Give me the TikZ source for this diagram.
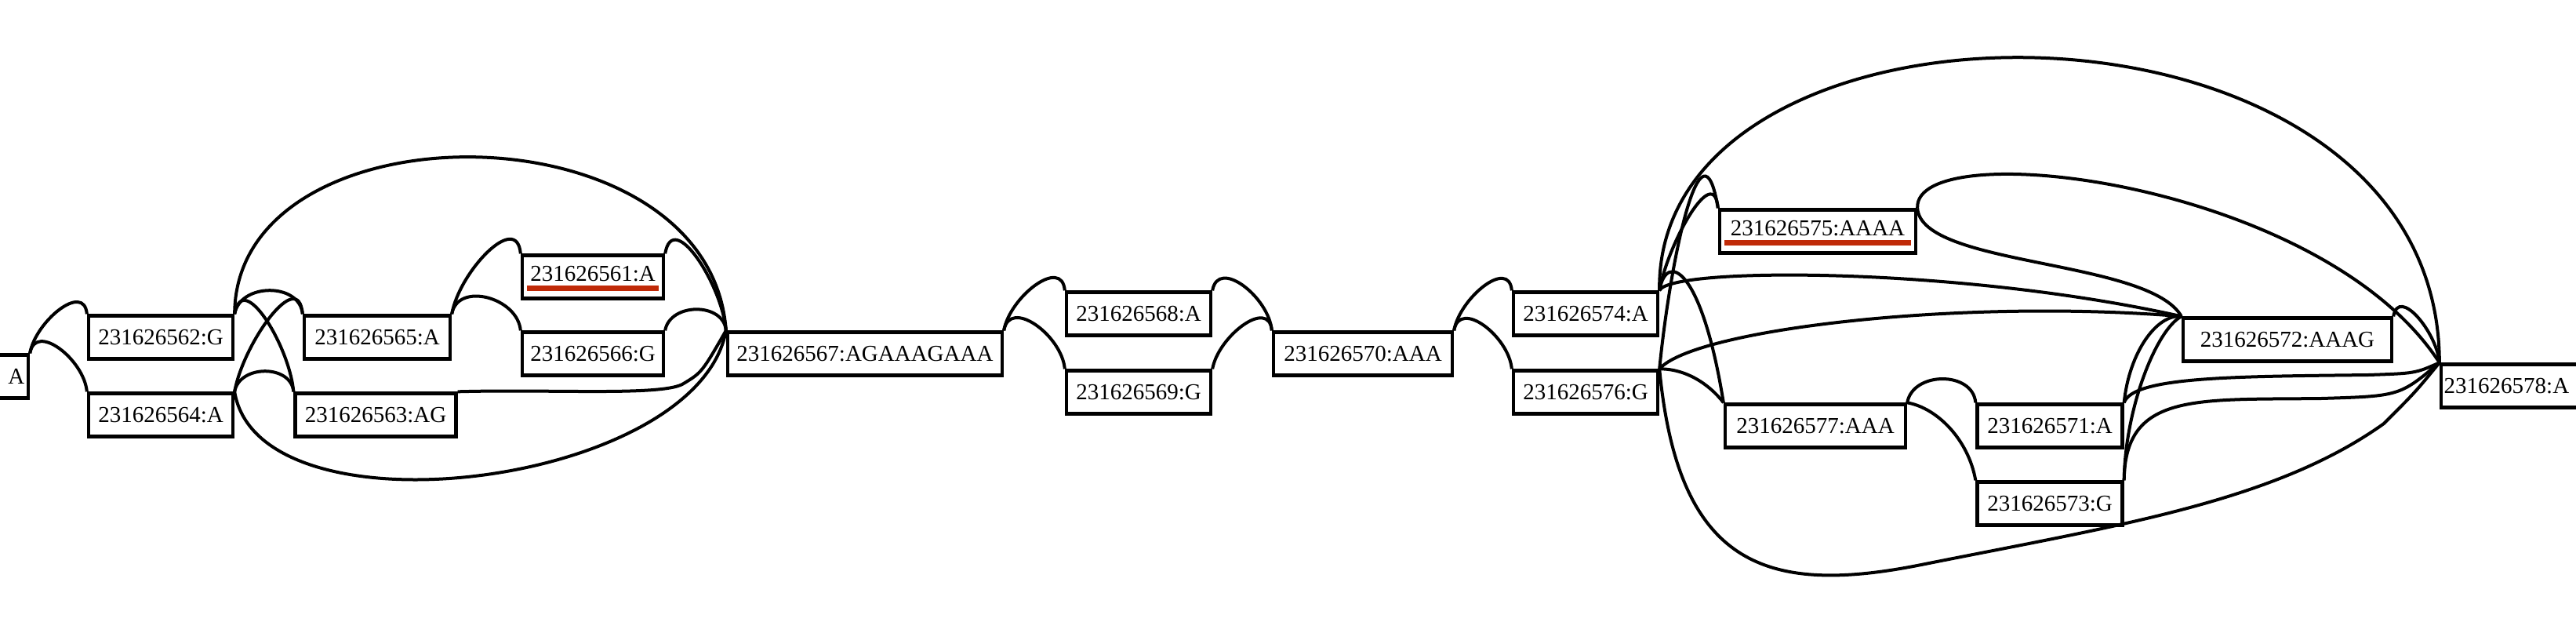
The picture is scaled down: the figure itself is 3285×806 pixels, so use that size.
\documentclass[tikz,border=0pt]{standalone}
\usepackage{fontspec}
\setmainfont{Liberation Serif}
\definecolor{hl}{HTML}{C02A08}
\tikzset{
  box/.style={draw,line width=1.3pt,rectangle,inner sep=0pt,minimum height=16.5pt,font=\fontsize{8.7}{10}\selectfont},
  ed/.style={line width=1.2pt},
  arc/.style={ed,out=80,in=95,looseness=1.2}
}
\begin{document}
\begin{tikzpicture}[x=0.3pt,y=-0.3pt]
\clip (0,0) rectangle (3285,806);
\useasboundingbox (0,0) rectangle (3285,806);
\fill[white] (0,0) rectangle (3285,806);
% nodes (pixel centres)
\node[box,minimum width=19.8pt,text width=17pt,align=right] (n60) at (3,480) {A};
\node[box,minimum width=55.2pt] (n62) at (205,430) {231626562:G};
\node[box,minimum width=55.2pt] (n64) at (205,529) {231626564:A};
\node[box,minimum width=55.8pt] (n65) at (481,430) {231626565:A};
\node[box,minimum width=61.5pt] (n63) at (479,529) {231626563:AG};
\node[box,minimum width=54pt] (n61) at (756,353) {\raisebox{2.2pt}{231626561:A}};
\node[box,minimum width=54pt] (n66) at (756,451) {231626566:G};
\node[box,minimum width=105pt] (n67) at (1103,451) {231626567:AGAAAGAAA};
\node[box,minimum width=55.2pt] (n68) at (1452,400) {231626568:A};
\node[box,minimum width=55.2pt] (n69) at (1452,500) {231626569:G};
\node[box,minimum width=68.4pt] (n70) at (1738,451) {231626570:AAA};
\node[box,minimum width=55.2pt] (n74) at (2022,400) {231626574:A};
\node[box,minimum width=55.2pt] (n76) at (2022,500) {231626576:G};
\node[box,minimum width=75pt] (n75) at (2318,295) {\raisebox{2.2pt}{231626575:AAAA}};
\node[box,minimum width=79.8pt] (n72) at (2917,433) {231626572:AAAG};
\node[box,minimum width=55.2pt,text width=52pt,align=left] (n78) at (3205,492) {\hspace{-0.5pt}231626578:A};
\node[box,minimum width=69pt] (n77) at (2315,543) {231626577:AAA};
\node[box,minimum width=55.5pt] (n71) at (2614,543) {231626571:A};
\node[box,minimum width=55.5pt] (n73) at (2614,642) {231626573:G};
% highlight bars
\fill[hl] ([xshift=2.4pt,yshift=3.5pt]n61.south west) rectangle ([xshift=-2.4pt,yshift=5.6pt]n61.south east);
\fill[hl] ([xshift=2.4pt,yshift=3.5pt]n75.south west) rectangle ([xshift=-2.4pt,yshift=5.6pt]n75.south east);
% edges left part
\draw[arc] (n60.north east) to (n62.north west);
\draw[arc] (n60.north east) to (n64.north west);
\draw[arc] (n62.north east) to (n65.north west);
\draw[arc] (n62.north east) to (n63.north west);
\draw[ed] (n62.north east) .. controls (300,130) and (905,130) .. (n67.north west);
\draw[arc] (n64.north east) to (n65.north west);
\draw[arc] (n64.north east) to (n63.north west);
\draw[ed] (n64.north east) .. controls (330,690) and (890,620) .. (n67.north west);
\draw[arc] (n65.north east) to (n61.north west);
\draw[arc] (n65.north east) to (n66.north west);
\draw[arc] (n61.north east) to (n67.north west);
\draw[arc] (n66.north east) to (n67.north west);
\draw[ed] (n63.north east) .. controls (700,496) and (840,505) .. (870,490) .. controls (895,475) .. (n67.north west);
% middle
\draw[arc] (n67.north east) to (n68.north west);
\draw[arc] (n67.north east) to (n69.north west);
\draw[arc] (n68.north east) to (n70.north west);
\draw[arc] (n69.north east) to (n70.north west);
\draw[arc] (n70.north east) to (n74.north west);
\draw[arc] (n70.north east) to (n76.north west);
% right part
\draw[arc] (n74.north east) to (n75.north west);
\draw[ed] (n76.north east) .. controls (2130,330) and (2170,140) .. (n75.north west);
\draw[ed] (n74.north east) .. controls (2130,340) and (2500,340) .. (n72.north west);
\draw[ed] (n76.north east) .. controls (2160,420) and (2500,380) .. (n72.north west);
\draw[ed] (n74.north east) .. controls (2125,320) and (2170,340) .. (n77.north west);
\draw[ed] (n76.north east) .. controls (2150,470) and (2180,490) .. (n77.north west);
\draw[ed] (n74.north east) .. controls (2110,-40) and (3110,-40) .. (n78.north west);
\draw[ed] (n76.north east) .. controls (2140,720) and (2250,760) .. (2450,720) .. controls (2700,670) and (2900,640) .. (3040,540) .. controls (3080,500) .. (n78.north west);
\draw[ed] (n75.north east) .. controls (2450,340) and (2740,330) .. (n72.north west);
\draw[ed] (n75.north east) .. controls (2440,170) and (2960,230) .. (n78.north west);
\draw[arc] (n77.north east) to (n71.north west);
\draw[ed] (n77.north east) .. controls (2470,520) and (2510,560) .. (n73.north west);
\draw[ed] (n71.north east) .. controls (2715,450) and (2750,400) .. (n72.north west);
\draw[ed] (n73.north east) .. controls (2710,520) and (2750,420) .. (n72.north west);
\draw[ed] (n71.north east) .. controls (2720,480) and (2850,480) .. (3020,478) .. controls (3080,476) .. (n78.north west);
\draw[ed] (n73.north east) .. controls (2710,500) and (2800,510) .. (2960,508) .. controls (3060,505) .. (n78.north west);
\draw[arc] (n72.north east) to (n78.north west);
\end{tikzpicture}
\end{document}
